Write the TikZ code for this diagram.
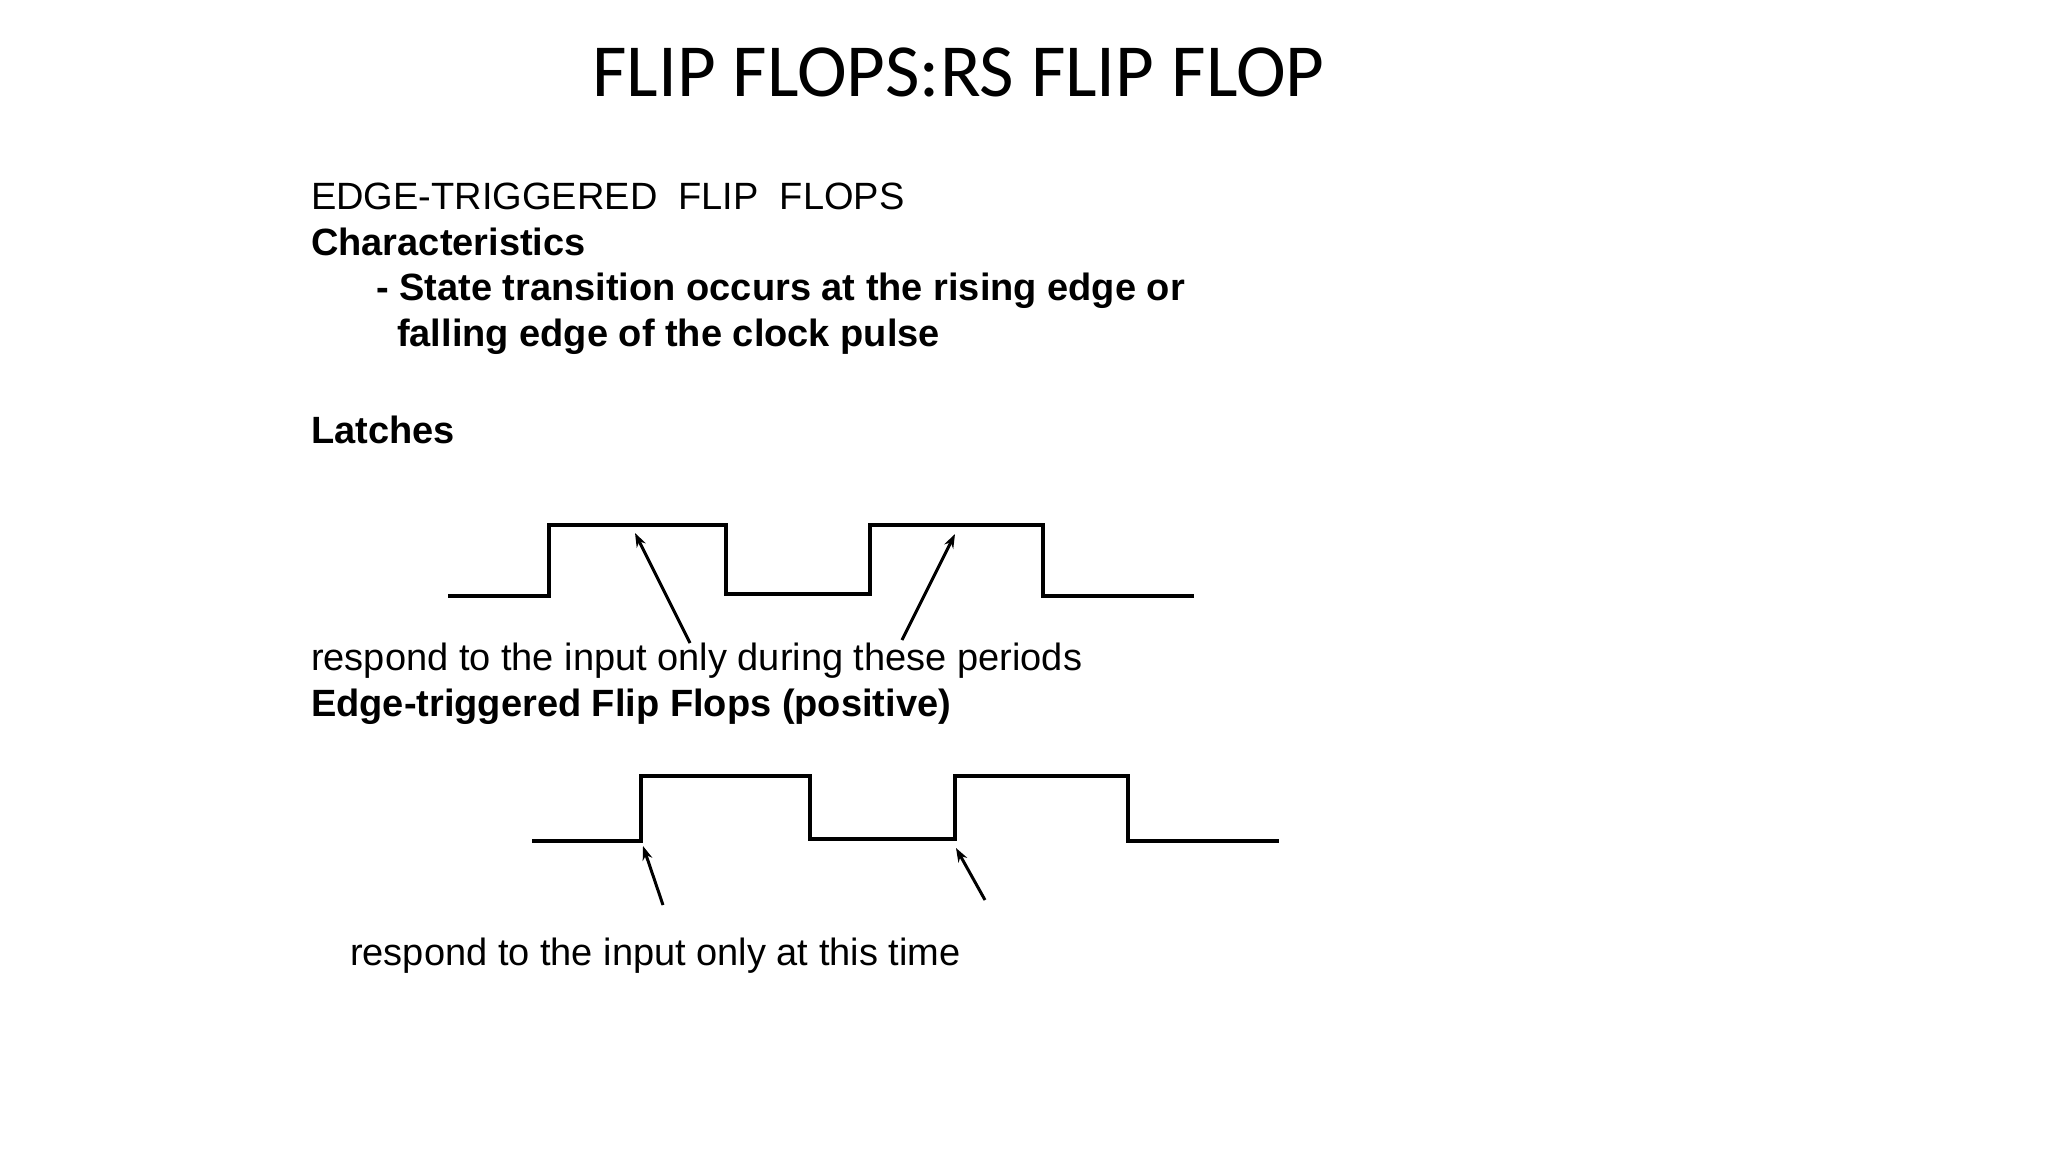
\documentclass[tikz,border=0pt]{standalone}
\usepackage{fontspec}
\setmainfont{Liberation Sans}
\newfontfamily\titlefont{Carlito}
\usetikzlibrary{arrows.meta}
\tikzset{
  txt/.style={anchor=base west, inner sep=0pt, font=\fontsize{38}{46}\selectfont},
  btxt/.style={txt, font=\fontsize{38}{46}\selectfont\bfseries},
  wave/.style={line width=3.6pt, line join=miter, line cap=butt},
  pointer/.style={line width=3pt, -{Stealth[length=14pt,width=10pt]}},
}
\begin{document}
\begin{tikzpicture}[x=1pt,y=-1pt]
\useasboundingbox[fill=white] (0,0) rectangle (2048,1152);
% title
\node[anchor=base west, inner sep=0pt, font=\titlefont\fontsize{75}{90}\selectfont] (title) at (592,96) {FLIP FLOPS:RS FLIP FLOP};
% body text
\node[txt] (l1) at (311,209) {EDGE-TRIGGERED\ \ FLIP\ \ FLOPS};
\node[btxt] (l2) at (311,255) {Characteristics};
\node[btxt] (l3) at (376,300) {- State transition occurs at the rising edge or};
\node[btxt] (l4) at (397,346) {falling edge of the clock pulse};
\node[btxt] (l5) at (311,443) {Latches};
\node[txt] (l6) at (311,670) {respond to the input only during these periods};
\node[btxt] (l7) at (311,716) {Edge-triggered Flip Flops (positive)};
\node[txt] (l8) at (350,965) {respond to the input only at this time};
% latch waveform
\coordinate (a0) at (448,596);
\coordinate (a1) at (549,596);
\coordinate (a2) at (549,525);
\coordinate (a3) at (726,525);
\coordinate (a4) at (726,594);
\coordinate (a5) at (870,594);
\coordinate (a6) at (870,525);
\coordinate (a7) at (1043,525);
\coordinate (a8) at (1043,596);
\coordinate (a9) at (1194,596);
\draw[wave] (a0) -- (a1) -- (a2) -- (a3) -- (a4) -- (a5) -- (a6) -- (a7) -- (a8) -- (a9);
\coordinate (p1tail) at (690,643);
\coordinate (p1tip) at (635,533);
\coordinate (p2tail) at (902,640);
\coordinate (p2tip) at (955,534);
\draw[pointer] (p1tail) -- (p1tip);
\draw[pointer] (p2tail) -- (p2tip);
% edge-triggered waveform
\coordinate (b0) at (532,841);
\coordinate (b1) at (641,841);
\coordinate (b2) at (641,776);
\coordinate (b3) at (810,776);
\coordinate (b4) at (810,839);
\coordinate (b5) at (955,839);
\coordinate (b6) at (955,776);
\coordinate (b7) at (1128,776);
\coordinate (b8) at (1128,841);
\coordinate (b9) at (1279,841);
\draw[wave] (b0) -- (b1) -- (b2) -- (b3) -- (b4) -- (b5) -- (b6) -- (b7) -- (b8) -- (b9);
\coordinate (q1tail) at (663,905);
\coordinate (q1tip) at (643,846);
\coordinate (q2tail) at (985,900);
\coordinate (q2tip) at (956,848);
\draw[pointer] (q1tail) -- (q1tip);
\draw[pointer] (q2tail) -- (q2tip);
\end{tikzpicture}
\end{document}
